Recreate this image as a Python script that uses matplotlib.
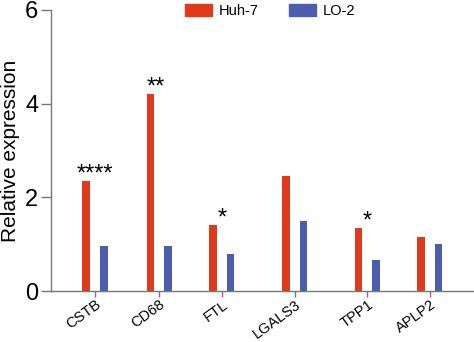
import matplotlib
matplotlib.use("Agg")
import matplotlib.pyplot as plt
import matplotlib.transforms as mtrans
from matplotlib.patches import Patch

plt.rcParams['font.family'] = ['Liberation Sans', 'DejaVu Sans']

genes = ["CSTB", "CD68", "FTL", "LGALS3", "TPP1", "APLP2"]
huh7 = [2.35, 4.21, 1.41, 2.45, 1.34, 1.16]
lo2 = [0.97, 0.97, 0.79, 1.49, 0.66, 1.00]
signif = ["****", "**", "*", "", "*", ""]
series_names = ["Huh-7", "LO-2"]

# layout
xpos = [0, 1, 1.98, 3.12, 4.25, 5.23]
red = "#E03A1C"
blue = "#4A5DAE"

fig = plt.figure(figsize=(4.74, 3.42), dpi=100)
ax = fig.add_axes([51/474, 51/342, 1 - 51/474, (291-10)/342])

w = 0.117
off = 0.137
ax.bar([x - off for x in xpos], huh7, width=w, color=red)
ax.bar([x + off for x in xpos], lo2, width=w, color=blue)

for x, h, s in zip(xpos, huh7, signif):
    if s:
        ax.text(x if s != "**" else x - 0.05, h - 0.1, s, ha="center", va="bottom",
                fontsize=17, color="black")

ax.set_xlim(-0.6875, 5.92)
ax.set_ylim(0, 6)
ax.set_yticks([0, 2, 4, 6])
ax.set_xticks(xpos)
ax.tick_params(axis="y", labelsize=17, length=7, color="#777777", width=1, pad=2)
ax.tick_params(axis="x", length=4.5, color="#777777", width=1, pad=3.5)
ax.set_xticklabels(genes, rotation=36, ha="right", va="center",
                   rotation_mode="anchor", fontsize=10.5)
shift = mtrans.ScaledTranslation(0.045, -0.01, fig.dpi_scale_trans)
for lbl in ax.xaxis.get_majorticklabels():
    lbl.set_transform(lbl.get_transform() + shift)
ax.set_ylabel("Relative expression", fontsize=15, labelpad=4)
for sp in ["top", "right"]:
    ax.spines[sp].set_visible(False)
for sp in ["left", "bottom"]:
    ax.spines[sp].set_color("#777777")
    ax.spines[sp].set_linewidth(1)

handles = [Patch(color=red), Patch(color=blue)]
fig.legend(handles, series_names, loc="upper left", bbox_to_anchor=(172/474, 1.026),
           ncol=2, frameon=False, fontsize=10.5, handlelength=1.85, handleheight=0.9,
           columnspacing=2.1, handletextpad=0.45)

fig.savefig("out.png", dpi=100)
